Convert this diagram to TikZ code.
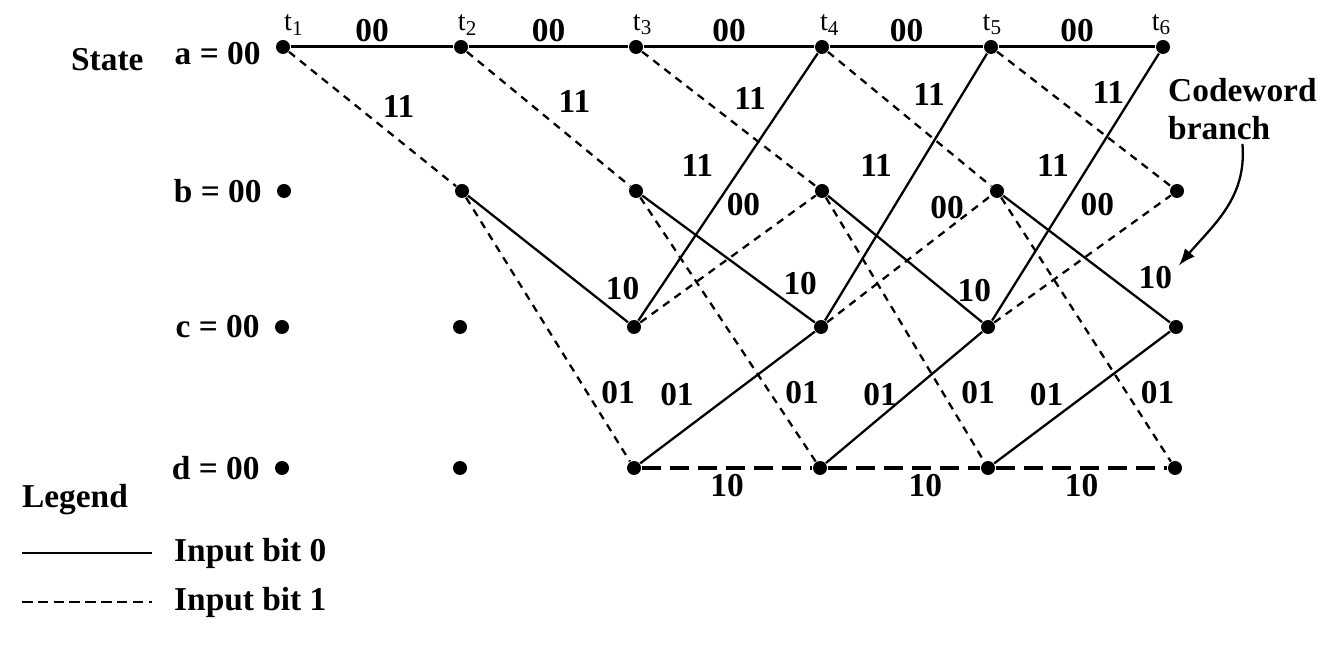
\documentclass[tikz,border=0pt]{standalone}
\usepackage{fontspec}
\setmainfont{Liberation Serif}
\usetikzlibrary{arrows, calc, positioning}

\tikzset{
  dot/.style={circle, fill, inner sep=0pt, minimum size=1.4mm},
  bitzero/.style={line width=.65pt},
  bitone/.style={line width=.65pt, dash pattern=on 2.2pt off 1.8pt},
  bitoneheavy/.style={line width=1.3pt, dash pattern=on 5.4pt off 2.6pt},
  legdash/.style={line width=.65pt, dash pattern=on 3pt off 1.5pt},
  lbl/.style={inner sep=1pt, font=\fontsize{9.5}{10.8}\selectfont\bfseries},
  tlbl/.style={inner sep=1pt, font=\fontsize{8}{9}\selectfont},
}

\begin{document}
\begin{tikzpicture}[every node/.style={lbl}]
\useasboundingbox (0,0) rectangle (13.4,-6.56);

% trellis states
\foreach \n/\xa/\xb/\xc/\xd/\ts in {1/2.83/2.84/2.82/2.82/3.2pt, 2/4.61/4.62/4.60/4.60/2pt,
    3/6.36/6.36/6.34/6.34/2pt, 4/8.22/8.22/8.21/8.20/2.3pt,
    5/9.91/9.97/9.88/9.88/.5pt, 6/11.63/11.77/11.76/11.75/-.3pt} {
  \node[dot, label={[tlbl, xshift=\ts]above:t\textsubscript{\n}}] (a\n) at (\xa,-0.47) {};
  \node[dot] (b\n) at (\xb,-1.91) {};
  \node[dot] (c\n) at (\xc,-3.27) {};
  \node[dot] (d\n) at (\xd,-4.68) {};
}

\node[left=3pt of a1, yshift=-2pt] (sa) {a = 00};
\node[left=3pt of b1] (sb) {b = 00};
\node[left=3pt of c1] (sc) {c = 00};
\node[left=3pt of d1] (sd) {d = 00};
\node[left=6.5pt of sa, yshift=-1.5pt] (state) {State};

\draw
  (a1) edge[bitzero, line width=.85pt] node[above] {00} (a2)
  (a2) edge[bitzero, line width=.85pt] node[above] {00} (a3)
  (a3) edge[bitzero, line width=.85pt] node[above] {00} (a4)
  (a4) edge[bitzero, line width=.85pt] node[above] {00} (a5)
  (a5) edge[bitzero, line width=.85pt] node[above] {00} (a6)
  (a1) edge[bitone] node[pos=.41, right=5.9pt] {11} (b2)
  (a2) edge[bitone] node[pos=.37, right=7.6pt] {11} (b3)
  (a3) edge[bitone] node[pos=.35, right=7.6pt] {11} (b4)
  (a4) edge[bitone] node[pos=.32, right=8.1pt] {11} (b5)
  (a5) edge[bitone] node[pos=.30, right=11pt] {11} (b6)
  (c3) edge[bitzero] node[pos=.58, left=7pt] {11} (a4)
  (c4) edge[bitzero] node[pos=.58, left=6.4pt] {11} (a5)
  (c5) edge[bitzero] node[pos=.58, left=4.4pt] {11} (a6)
  (c3) edge[bitone] node[pos=.93, left=11pt] {00} (b4)
  (c4) edge[bitone] node[pos=.91, left=2.2pt] {00} (b5)
  (c5) edge[bitone] node[pos=.93, left=11.3pt] {00} (b6)
  (b2) edge[bitzero] node[pos=.73, right=4.7pt] {10} (c3)
  (b3) edge[bitzero] node[pos=.69, right=5pt] {10} (c4)
  (b4) edge[bitzero] node[pos=.75, right=2.7pt] {10} (c5)
  (b5) edge[bitzero] node[pos=.65, right=6.4pt] (cwlbl) {10} (c6)
  (b2) edge[bitone] node[pos=.74, right=2.7pt] {01} (d3)
  (b3) edge[bitone] node[pos=.74, right=3pt] {01} (d4)
  (b4) edge[bitone] node[pos=.74, right=3.9pt] {01} (d5)
  (b5) edge[bitone] node[pos=.74, right=2.7pt] {01} (d6)
  (d3) edge[bitzero] node[pos=.52, left=9.3pt] {01} (c4)
  (d4) edge[bitzero] node[pos=.52, left=1.6pt] {01} (c5)
  (d5) edge[bitzero] node[pos=.52, left=5pt] {01} (c6)
  (d3) edge[bitoneheavy] node[below] {10} (d4)
  (d4) edge[bitoneheavy] node[pos=.64, below] {10} (d5)
  (d5) edge[bitoneheavy] node[below] {10} (d6);

% codeword note
\node[anchor=west, align=left] (cw) at (11.64,-1.09) {Codeword\\branch};
\draw[-latex, line width=.65pt, shorten >=1pt] (cw.south) to[out=-85, in=50] (cwlbl.25);

% legend
\node (legend) at (0.75,-5.00) {Legend};
\coordinate (z0) at (0.22,-5.53);
\coordinate (z1) at (1.52,-5.53);
\coordinate (o0) at (0.22,-6.02);
\coordinate (o1) at (1.52,-6.02);
\node[right=0.18 of z1] (in0) {Input bit 0};
\node[right=0.18 of o1] (in1) {Input bit 1};
\draw[bitzero] (z0) -- (z1);
\draw[legdash] (o0) -- (o1);
\end{tikzpicture}
\end{document}
